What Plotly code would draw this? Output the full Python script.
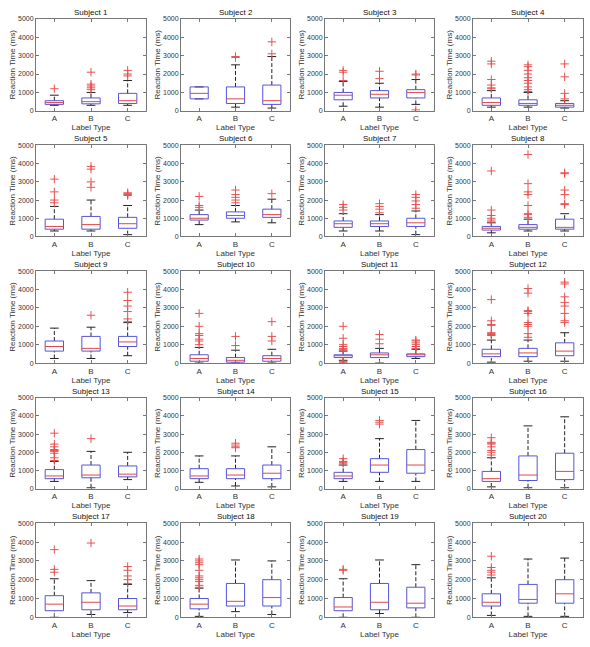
import plotly.graph_objects as go

labels = ["A", "B", "C"]
subjects = [f"Subject {i}" for i in range(1, 21)]

# per subject: per label [lower whisker, q1, median, q3, upper whisker]
stats = [
    [[300, 350, 450, 550, 850], [300, 380, 500, 700, 1000], [300, 400, 550, 950, 1650]],
    [[650, 650, 950, 1300, 1300], [200, 400, 650, 1300, 2500], [150, 350, 550, 1400, 2950]],
    [[250, 600, 850, 1000, 1600], [200, 700, 900, 1100, 1500], [350, 700, 1000, 1150, 1700]],
    [[200, 300, 450, 700, 1100], [200, 300, 400, 600, 1000], [150, 200, 300, 400, 550]],
    [[300, 400, 550, 950, 1650], [300, 400, 650, 1100, 2000], [100, 450, 700, 1050, 1700]],
    [[650, 900, 1000, 1200, 1450], [800, 1000, 1150, 1350, 1700], [750, 1050, 1200, 1500, 2050]],
    [[300, 500, 700, 850, 1250], [300, 550, 700, 850, 1200], [100, 550, 750, 1000, 1400]],
    [[200, 350, 450, 550, 750], [300, 400, 500, 650, 950], [300, 400, 500, 950, 1250]],
    [[250, 650, 900, 1200, 1900], [250, 650, 800, 1450, 1950], [400, 900, 1150, 1450, 2200]],
    [[0, 100, 250, 450, 850], [0, 50, 150, 300, 700], [0, 100, 250, 400, 750]],
    [[150, 300, 400, 450, 650], [0, 300, 450, 550, 800], [250, 350, 450, 500, 750]],
    [[50, 350, 500, 750, 1250], [100, 350, 550, 800, 1250], [100, 400, 650, 1100, 1650]],
    [[400, 550, 700, 1050, 1500], [50, 600, 750, 1300, 2050], [500, 650, 800, 1250, 2000]],
    [[350, 550, 700, 1100, 1800], [150, 550, 750, 1100, 1800], [100, 550, 850, 1300, 2300]],
    [[400, 550, 700, 900, 1300], [400, 900, 1300, 1650, 2750], [400, 850, 1300, 2150, 3750]],
    [[100, 400, 550, 950, 1700], [50, 450, 750, 1800, 3450], [50, 500, 950, 1950, 3950]],
    [[0, 350, 700, 1150, 2050], [150, 400, 800, 1300, 1950], [250, 400, 600, 1000, 1750]],
    [[50, 450, 700, 1000, 1550], [300, 600, 850, 1800, 3050], [150, 600, 1050, 2000, 3000]],
    [[0, 350, 550, 1050, 2050], [200, 400, 800, 1800, 3050], [0, 500, 750, 1600, 2800]],
    [[100, 600, 800, 1250, 2100], [50, 750, 950, 1750, 3100], [50, 750, 1250, 2000, 3150]],
]

outliers = [
    [[1200], [1150, 1250, 1350, 1450, 2100], [1900, 2000, 2200]],
    [[], [2900, 2950], [3100, 3750]],
    [[1650, 2100, 2200], [1750, 2150], [50, 1950, 2000]],
    [[1200, 1250, 1400, 1700, 2550, 2700], [1050, 1150, 1300, 1500, 1650, 1800, 2000, 2200, 2400, 2500], [650, 950, 1850, 2550]],
    [[1850, 2000, 2450, 3150], [2700, 3000, 3700, 3850], [2250, 2300, 2350, 2400]],
    [[1600, 1700, 2200], [1850, 2000, 2150, 2300, 2550], [2350]],
    [[1450, 1600, 1750], [1300, 1500, 1650, 1800], [1550, 1750, 1950, 2150, 2300]],
    [[800, 900, 1000, 1150, 1450, 3600], [1050, 1200, 1250, 1700, 2300, 2450, 2900, 4500], [1750, 1800, 2300, 2550, 3450, 3500]],
    [[], [2600], [2250, 2400, 2800, 3100, 3400, 3850]],
    [[1000, 1200, 1300, 1500, 1600, 2000, 2700], [950, 1450], [1200, 1450, 2250]],
    [[0, 50, 100, 700, 750, 800, 900, 1000, 1350, 2000], [1050, 1300, 1550], [800, 900, 1000, 1100, 1200, 1250]],
    [[1500, 1550, 1600, 1650, 2050, 2100, 2300, 3450], [1400, 1600, 2000, 2100, 2200, 2700, 2800, 2850, 3800, 4050], [2200, 2300, 2700, 3100, 3300, 3600, 4300, 4400]],
    [[1550, 1700, 1950, 2050, 2100, 2150, 2300, 2450, 3050], [2750], []],
    [[], [2250, 2300, 2400, 2500], []],
    [[1400, 1450, 1500, 1650], [3550, 3650, 3750], []],
    [[1850, 2000, 2100, 2300, 2450, 2500, 2550, 2800], [], []],
    [[2400, 2550, 3600], [3950], [1800, 2000, 2200, 2500, 2700]],
    [[1600, 1700, 1900, 2000, 2100, 2200, 2500, 2800, 2900, 3000, 3100], [], []],
    [[2500, 2550], [], []],
    [[2250, 2400, 2500, 2650, 3250], [], []],
]

y_ticks = [0, 1000, 2000, 3000, 4000, 5000]

W, H = 590, 647
col_px = [(36, 146), (181, 290), (325, 434), (473, 583)]
row_px = [(15, 108), (143, 235), (270, 363), (398, 490), (525, 620)]

BOX_HW = 0.25
CAP_HW = 0.12
FONT = "Liberation Sans, Arial, sans-serif"
TXT = "#333"

fig = go.Figure()
layout = dict(
    width=W, height=H, margin=dict(l=0, r=0, t=0, b=0),
    paper_bgcolor="white", plot_bgcolor="white", showlegend=False,
    font=dict(family=FONT, size=8, color=TXT),
    annotations=[],
)

for s in range(20):
    r, c = divmod(s, 4)
    idx = s + 1
    xa = "x" if idx == 1 else f"x{idx}"
    ya = "y" if idx == 1 else f"y{idx}"
    bx, by, mx, my, wx, wy, cx, cy, ox, oy = [], [], [], [], [], [], [], [], [], []
    for k in range(3):
        lo, q1, med, q3, hi = stats[s][k]
        x0 = k + 1
        bx += [x0 - BOX_HW, x0 + BOX_HW, x0 + BOX_HW, x0 - BOX_HW, x0 - BOX_HW, None]
        by += [q1, q1, q3, q3, q1, None]
        mx += [x0 - BOX_HW, x0 + BOX_HW, None]
        my += [med, med, None]
        wx += [x0, x0, None, x0, x0, None]
        wy += [q3, hi, None, lo, q1, None]
        cx += [x0 - CAP_HW, x0 + CAP_HW, None, x0 - CAP_HW, x0 + CAP_HW, None]
        cy += [hi, hi, None, lo, lo, None]
        for v in outliers[s][k]:
            ox.append(x0)
            oy.append(v)
    fig.add_trace(go.Scatter(x=wx, y=wy, mode="lines", xaxis=xa, yaxis=ya,
                             line=dict(color="#222", width=1, dash="4px,2px"), hoverinfo="skip"))
    fig.add_trace(go.Scatter(x=cx, y=cy, mode="lines", xaxis=xa, yaxis=ya,
                             line=dict(color="#222", width=1), hoverinfo="skip"))
    fig.add_trace(go.Scatter(x=bx, y=by, mode="lines", xaxis=xa, yaxis=ya,
                             line=dict(color="#5555d8", width=1), hoverinfo="skip"))
    fig.add_trace(go.Scatter(x=mx, y=my, mode="lines", xaxis=xa, yaxis=ya,
                             line=dict(color="#e04848", width=1), hoverinfo="skip"))
    fig.add_trace(go.Scatter(x=ox, y=oy, mode="markers", xaxis=xa, yaxis=ya,
                             marker=dict(symbol="cross-thin", size=6, line=dict(color="#e85050", width=1)),
                             hoverinfo="skip"))

    x0p, x1p = col_px[c]
    t0p, t1p = row_px[r]
    xdom = [x0p / W, x1p / W]
    ydom = [1 - t1p / H, 1 - t0p / H]
    kx = "xaxis" if idx == 1 else f"xaxis{idx}"
    ky = "yaxis" if idx == 1 else f"yaxis{idx}"
    layout[kx] = dict(domain=xdom, anchor=ya, range=[0.5, 3.5], tickmode="array",
                      tickvals=[1, 2, 3], ticktext=labels, showline=True, mirror="ticks",
                      linecolor="#777", linewidth=1, ticks="inside", ticklen=3, tickcolor="#777",
                      showgrid=False, zeroline=False, tickfont=dict(size=8, color=TXT),
                      title=dict(text="Label Type", font=dict(size=8, color=TXT), standoff=0))
    layout[ky] = dict(domain=ydom, anchor=xa, range=[0, 5000], tickmode="array",
                      tickvals=y_ticks, ticktext=[str(v) for v in y_ticks], showline=True,
                      mirror="ticks", linecolor="#777", linewidth=1, ticks="inside", ticklen=3,
                      tickcolor="#777", showgrid=False, zeroline=False,
                      tickfont=dict(size=7, color=TXT),
                      title=dict(text="Reaction Time (ms)", font=dict(size=8, color=TXT), standoff=1))
    layout["annotations"].append(dict(
        text=subjects[s], x=(xdom[0] + xdom[1]) / 2, y=ydom[1], xref="paper", yref="paper",
        xanchor="center", yanchor="bottom", yshift=0, showarrow=False,
        font=dict(size=8, color="#111")))

fig.update_layout(**layout)
fig.write_html("out.html")
